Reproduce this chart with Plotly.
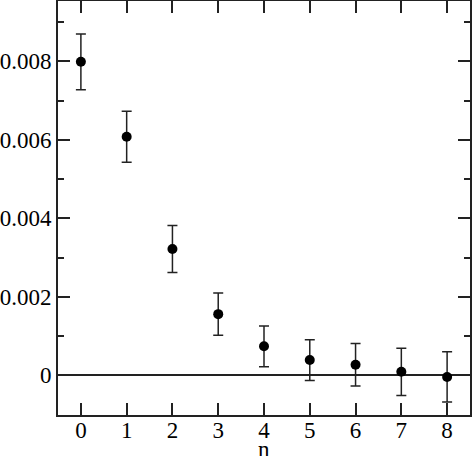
import plotly.graph_objects as go

# values
n = [0, 1, 2, 3, 4, 5, 6, 7, 8]
value = [0.00799, 0.00608, 0.00322, 0.00156, 0.00074, 0.00039, 0.00027, 0.00009, -0.00004]
err = [0.00071, 0.00065, 0.00060, 0.00054, 0.00052, 0.00052, 0.00054, 0.00060, 0.00064]

font = dict(family='Liberation Serif', size=23, color='black')

fig = go.Figure()
fig.add_trace(go.Scatter(
    x=n, y=value,
    mode='markers',
    marker=dict(color='black', size=10),
    error_y=dict(type='data', array=err, color='#222222', thickness=1.5, width=5),
    showlegend=False))

fig.update_xaxes(
    range=[-0.5, 8.5], tick0=0, dtick=1,
    ticks='inside', ticklen=12, tickwidth=1.5, tickcolor='#222222',
    showline=True, linewidth=2, linecolor='#222222', mirror='allticks',
    showgrid=False, zeroline=False, automargin=False, ticklabelstandoff=-7,
    tickfont=font)
fig.update_yaxes(
    range=[-0.00101, 0.00954], tick0=0, dtick=0.002,
    ticks='inside', ticklen=12, tickwidth=1.5, tickcolor='#222222',
    minor=dict(dtick=0.001, tick0=0, ticks='inside', ticklen=6, tickwidth=1.5, tickcolor='#222222'),
    showline=True, linewidth=2, linecolor='#222222', mirror='allticks',
    showgrid=False, zeroline=True, zerolinecolor='#222222', zerolinewidth=1.5,
    automargin=False, tickfont=font)

# axis label sits under the "4", as in the original
fig.add_annotation(text='n', xref='x', x=4, yref='paper', y=0,
                   yanchor='middle', yshift=-34, showarrow=False, font=font)

fig.update_layout(
    width=474, height=456,
    margin=dict(l=58, r=4, t=1, b=41),
    plot_bgcolor='white', paper_bgcolor='white',
    font=font)

# drop the default page margin so the figure sits at the window corner
fig.write_html('out.html', config={'displayModeBar': False},
               post_script='document.body.style.margin = "0";')
